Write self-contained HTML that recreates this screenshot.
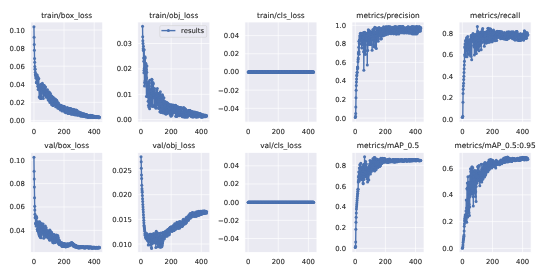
<!DOCTYPE html><html><head><meta charset="utf-8"><title>results</title><style>html,body{margin:0;padding:0;background:#fff}svg{display:block}text{font-family:"DejaVu Sans","Liberation Sans",sans-serif;fill:#262626;stroke:#262626;stroke-width:0.1}</style></head><body>
<svg width="550" height="273" viewBox="0 0 550 273">
<rect width="550" height="273" fill="#fff"/>
<defs><marker id="m" markerWidth="6" markerHeight="6" refX="3" refY="3" markerUnits="userSpaceOnUse"><circle cx="3" cy="3" r="1.5" fill="#4c72b0"/></marker></defs>
<g>
<rect x="30.66" y="22.00" width="72.08" height="100.1" fill="#eaeaf2"/>
<path d="M33.94 22.00V122.10M64.06 22.00V122.10M94.19 22.00V122.10M30.66 120.40H102.74M30.66 102.32H102.74M30.66 84.24H102.74M30.66 66.16H102.74M30.66 48.08H102.74M30.66 30.00H102.74" stroke="#fff" stroke-width="0.65" fill="none"/>
<polyline points="33.94,26.84 34.09,37.23 34.24,44.46 34.39,50.25 34.54,58.39 34.69,62.28 34.84,66.43 34.99,68.93 35.14,69.21 35.29,72.13 35.44,74.48 35.59,75.39 35.74,74.20 35.89,77.00 36.05,78.25 36.20,74.86 36.35,82.48 36.50,82.46 36.65,82.71 36.80,75.09 36.95,76.33 37.10,74.96 37.25,81.57 37.40,83.57 37.55,78.15 37.70,86.13 37.85,76.99 38.00,78.82 38.15,89.43 38.30,84.93 38.46,86.79 38.61,78.40 38.76,78.80 38.91,87.05 39.06,86.87 39.21,97.05 39.36,88.68 39.51,89.00 39.66,97.00 39.81,86.32 39.96,97.73 40.11,91.42 40.26,89.52 40.41,98.14 40.56,85.54 40.72,84.14 40.87,98.42 41.02,98.13 41.17,85.35 41.32,88.66 41.47,96.69 41.62,92.12 41.77,90.55 41.92,90.47 42.07,85.12 42.22,88.69 42.37,83.23 42.52,85.02 42.67,88.20 42.82,85.44 42.97,85.44 43.13,88.67 43.28,98.60 43.43,87.66 43.58,93.44 43.73,85.57 43.88,92.72 44.03,89.43 44.18,92.09 44.33,85.55 44.48,92.46 44.63,94.94 44.78,90.84 44.93,95.34 45.08,92.18 45.23,93.68 45.38,91.38 45.54,87.02 45.69,94.89 45.84,94.07 45.99,93.89 46.14,89.86 46.29,97.34 46.44,94.88 46.59,92.40 46.74,90.82 46.89,93.92 47.04,96.35 47.19,97.11 47.34,92.87 47.49,89.72 47.64,94.27 47.80,94.72 47.95,93.53 48.10,99.66 48.25,98.26 48.40,97.98 48.55,95.16 48.70,96.11 48.85,100.62 49.00,92.36 49.15,91.96 49.30,97.89 49.45,95.24 49.60,96.43 49.75,94.67 49.90,102.42 50.05,93.32 50.21,99.54 50.36,93.82 50.51,96.36 50.66,97.88 50.81,98.72 50.96,95.70 51.11,102.37 51.26,100.67 51.41,102.42 51.56,104.54 51.71,96.04 51.86,98.97 52.01,101.59 52.16,98.03 52.31,104.84 52.46,101.61 52.62,97.02 52.77,97.67 52.92,105.48 53.07,105.55 53.22,103.48 53.37,97.62 53.52,101.49 53.67,101.61 53.82,99.46 53.97,104.53 54.12,100.71 54.27,98.96 54.42,100.34 54.57,100.95 54.72,103.79 54.87,101.04 55.03,104.21 55.18,99.12 55.33,99.16 55.48,104.38 55.63,106.69 55.78,104.57 55.93,102.91 56.08,100.78 56.23,100.39 56.38,105.66 56.53,105.65 56.68,100.16 56.83,106.63 56.98,101.40 57.13,105.18 57.29,102.43 57.44,103.06 57.59,103.18 57.74,103.49 57.89,108.16 58.04,104.75 58.19,105.72 58.34,105.23 58.49,103.06 58.64,106.41 58.79,107.07 58.94,108.03 59.09,107.10 59.24,105.42 59.39,108.57 59.54,104.95 59.70,106.35 59.85,107.17 60.00,109.36 60.15,106.21 60.30,105.69 60.45,110.11 60.60,105.30 60.75,105.35 60.90,106.37 61.05,106.03 61.20,105.50 61.35,105.55 61.50,109.10 61.65,107.55 61.80,107.82 61.95,108.19 62.11,110.98 62.26,106.58 62.41,109.04 62.56,107.84 62.71,108.29 62.86,106.61 63.01,109.41 63.16,110.71 63.31,108.35 63.46,106.44 63.61,109.71 63.76,106.37 63.91,108.39 64.06,109.68 64.21,106.52 64.37,110.52 64.52,106.87 64.67,110.70 64.82,108.46 64.97,112.31 65.12,111.57 65.27,107.53 65.42,109.07 65.57,109.51 65.72,110.87 65.87,108.89 66.02,112.68 66.17,112.54 66.32,110.48 66.47,112.00 66.62,111.79 66.78,110.72 66.93,110.89 67.08,111.71 67.23,107.56 67.38,109.22 67.53,108.25 67.68,110.52 67.83,112.20 67.98,113.37 68.13,111.76 68.28,113.48 68.43,112.33 68.58,109.55 68.73,108.22 68.88,109.59 69.03,113.47 69.19,110.43 69.34,113.53 69.49,109.75 69.64,111.51 69.79,109.79 69.94,108.43 70.09,109.78 70.24,108.53 70.39,110.92 70.54,112.03 70.69,108.80 70.84,108.71 70.99,113.06 71.14,110.96 71.29,114.34 71.45,111.77 71.60,109.40 71.75,111.57 71.90,111.98 72.05,114.08 72.20,110.32 72.35,109.56 72.50,109.94 72.65,111.15 72.80,113.80 72.95,109.27 73.10,111.64 73.25,112.20 73.40,110.69 73.55,114.59 73.70,111.86 73.86,111.88 74.01,110.66 74.16,109.59 74.31,110.62 74.46,114.68 74.61,112.12 74.76,111.28 74.91,111.33 75.06,113.85 75.21,114.69 75.36,110.81 75.51,111.14 75.66,111.46 75.81,114.82 75.96,110.07 76.11,114.85 76.27,112.53 76.42,110.18 76.57,112.76 76.72,111.84 76.87,114.66 77.02,110.52 77.17,114.54 77.32,112.20 77.47,112.47 77.62,114.90 77.77,111.88 77.92,115.18 78.07,114.29 78.22,112.89 78.37,113.64 78.53,112.19 78.68,111.66 78.83,114.10 78.98,114.59 79.13,114.51 79.28,114.54 79.43,113.13 79.58,114.44 79.73,113.68 79.88,114.66 80.03,115.65 80.18,113.22 80.33,115.72 80.48,114.22 80.63,112.55 80.78,115.41 80.94,114.43 81.09,115.88 81.24,115.22 81.39,115.94 81.54,114.91 81.69,115.07 81.84,114.48 81.99,113.31 82.14,114.48 82.29,114.17 82.44,115.12 82.59,115.53 82.74,116.15 82.89,116.24 83.04,115.41 83.19,113.66 83.35,114.81 83.50,115.38 83.65,113.77 83.80,115.40 83.95,115.53 84.10,116.15 84.25,116.08 84.40,115.26 84.55,113.99 84.70,115.89 84.85,116.54 85.00,116.20 85.15,115.60 85.30,116.70 85.45,115.57 85.60,114.79 85.76,115.35 85.91,115.06 86.06,116.68 86.21,116.87 86.36,114.44 86.51,114.58 86.66,116.95 86.81,115.54 86.96,115.66 87.11,115.16 87.26,115.23 87.41,116.05 87.56,115.63 87.71,115.62 87.86,115.93 88.02,117.21 88.17,117.24 88.32,116.55 88.47,117.25 88.62,115.83 88.77,115.78 88.92,116.25 89.07,116.56 89.22,116.28 89.37,115.44 89.52,117.14 89.67,115.68 89.82,115.82 89.97,116.32 90.12,115.30 90.27,116.95 90.43,115.60 90.58,117.13 90.73,116.82 90.88,117.04 91.03,116.00 91.18,117.10 91.33,116.44 91.48,117.22 91.63,115.74 91.78,115.66 91.93,116.25 92.08,115.72 92.23,115.95 92.38,115.78 92.53,116.59 92.68,117.49 92.84,115.88 92.99,116.70 93.14,117.24 93.29,117.09 93.44,117.54 93.59,116.96 93.74,117.37 93.89,116.11 94.04,116.48 94.19,117.58 94.34,117.58 94.49,117.16 94.64,117.59 94.79,116.98 94.94,116.86 95.10,117.15 95.25,117.02 95.40,116.52 95.55,116.38 95.70,116.40 95.85,116.76 96.00,116.51 96.15,117.17 96.30,116.70 96.45,117.22 96.60,116.69 96.75,117.50 96.90,117.36 97.05,117.03 97.20,116.82 97.35,117.58 97.51,117.24 97.66,117.05 97.81,117.06 97.96,117.40 98.11,117.05 98.26,117.21 98.41,116.81 98.56,116.99 98.71,117.57 98.86,117.67 99.01,117.29 99.16,116.98 99.31,117.32 99.46,117.15" fill="none" stroke="#4c72b0" stroke-width="1.4" stroke-linejoin="round" stroke-linecap="round" marker-start="url(#m)" marker-mid="url(#m)" marker-end="url(#m)"/>
<rect x="30.66" y="22.00" width="72.08" height="100.1" fill="none" stroke="#fff" stroke-width="0.78"/>
<text x="33.94" y="133.80" font-size="6.875" text-anchor="middle">0</text>
<text x="64.06" y="133.80" font-size="6.875" text-anchor="middle">200</text>
<text x="94.19" y="133.80" font-size="6.875" text-anchor="middle">400</text>
<text x="24.86" y="122.90" font-size="6.875" text-anchor="end">0.00</text>
<text x="24.86" y="104.82" font-size="6.875" text-anchor="end">0.02</text>
<text x="24.86" y="86.74" font-size="6.875" text-anchor="end">0.04</text>
<text x="24.86" y="68.66" font-size="6.875" text-anchor="end">0.06</text>
<text x="24.86" y="50.58" font-size="6.875" text-anchor="end">0.08</text>
<text x="24.86" y="32.50" font-size="6.875" text-anchor="end">0.10</text>
<text x="66.70" y="17.50" font-size="7.4" text-anchor="middle">train/box_loss</text>
</g>
<g>
<rect x="137.76" y="22.00" width="72.08" height="100.1" fill="#eaeaf2"/>
<path d="M141.04 22.00V122.10M171.16 22.00V122.10M201.29 22.00V122.10M137.76 119.70H209.84M137.76 94.30H209.84M137.76 68.90H209.84M137.76 43.50H209.84" stroke="#fff" stroke-width="0.65" fill="none"/>
<polyline points="142.54,26.23 142.69,36.64 142.84,40.71 142.99,43.50 143.15,48.81 143.30,50.62 143.45,46.29 143.60,57.98 143.75,61.34 143.90,72.65 144.05,70.30 144.20,49.83 144.35,68.28 144.50,85.89 144.65,82.42 144.80,67.87 144.95,56.85 145.10,80.76 145.25,58.00 145.40,77.04 145.56,65.90 145.71,63.28 145.86,64.31 146.01,83.19 146.16,78.85 146.31,69.55 146.46,96.50 146.61,77.80 146.76,72.17 146.91,65.92 147.06,84.21 147.21,87.24 147.36,83.26 147.51,96.69 147.66,90.68 147.82,83.03 147.97,84.56 148.12,101.19 148.27,93.76 148.42,105.55 148.57,82.03 148.72,100.93 148.87,91.93 149.02,107.21 149.17,94.98 149.32,88.51 149.47,82.89 149.62,108.87 149.77,80.33 149.92,97.76 150.07,105.68 150.23,89.40 150.38,98.90 150.53,98.61 150.68,103.68 150.83,90.23 150.98,91.29 151.13,95.92 151.28,104.16 151.43,98.70 151.58,86.27 151.73,79.13 151.88,93.25 152.03,79.72 152.18,93.57 152.33,106.38 152.48,85.46 152.64,105.77 152.79,90.08 152.94,82.45 153.09,97.71 153.24,95.96 153.39,83.78 153.54,93.54 153.69,94.30 153.84,90.43 153.99,97.56 154.14,97.85 154.29,94.01 154.44,106.74 154.59,88.39 154.74,104.68 154.90,105.26 155.05,92.56 155.20,97.25 155.35,106.72 155.50,94.81 155.65,106.65 155.80,102.64 155.95,108.13 156.10,104.06 156.25,93.92 156.40,96.91 156.55,95.81 156.70,90.26 156.85,98.83 157.00,104.96 157.15,100.50 157.31,88.58 157.46,98.68 157.61,96.64 157.76,100.04 157.91,96.45 158.06,94.80 158.21,98.59 158.36,101.21 158.51,107.49 158.66,108.43 158.81,96.73 158.96,93.40 159.11,93.24 159.26,99.24 159.41,108.00 159.56,94.96 159.72,94.89 159.87,111.64 160.02,93.44 160.17,97.40 160.32,91.65 160.47,111.87 160.62,111.93 160.77,97.03 160.92,112.05 161.07,109.61 161.22,112.09 161.37,111.86 161.52,112.27 161.67,105.65 161.82,96.75 161.97,100.94 162.13,100.71 162.28,106.54 162.43,94.69 162.58,99.48 162.73,96.03 162.88,112.74 163.03,101.72 163.18,112.85 163.33,101.85 163.48,103.24 163.63,112.69 163.78,103.42 163.93,97.67 164.08,102.12 164.23,101.75 164.39,111.13 164.54,110.02 164.69,112.99 164.84,106.94 164.99,101.50 165.14,106.02 165.29,107.90 165.44,113.55 165.59,105.77 165.74,109.26 165.89,113.93 166.04,114.02 166.19,109.21 166.34,112.09 166.49,102.31 166.64,107.92 166.80,113.27 166.95,110.73 167.10,102.76 167.25,113.60 167.40,105.66 167.55,107.85 167.70,103.22 167.85,106.90 168.00,111.15 168.15,107.02 168.30,109.84 168.45,105.09 168.60,110.06 168.75,104.03 168.90,110.43 169.05,107.76 169.21,112.71 169.36,108.91 169.51,109.23 169.66,108.59 169.81,105.50 169.96,112.65 170.11,114.42 170.26,104.65 170.41,111.82 170.56,114.17 170.71,104.98 170.86,106.42 171.01,116.23 171.16,111.44 171.31,106.46 171.47,106.51 171.62,113.26 171.77,104.87 171.92,115.29 172.07,112.40 172.22,110.44 172.37,111.31 172.52,107.25 172.67,105.78 172.82,110.87 172.97,105.15 173.12,113.34 173.27,111.11 173.42,105.26 173.57,109.91 173.72,105.33 173.88,112.36 174.03,111.89 174.18,110.97 174.33,109.98 174.48,112.21 174.63,110.30 174.78,107.41 174.93,105.61 175.08,109.82 175.23,107.30 175.38,106.73 175.53,105.22 175.68,116.35 175.83,105.87 175.98,105.95 176.13,111.51 176.29,110.14 176.44,115.88 176.59,116.37 176.74,110.22 176.89,116.37 177.04,107.95 177.19,114.31 177.34,109.82 177.49,106.81 177.64,106.90 177.79,112.02 177.94,107.07 178.09,115.15 178.24,113.84 178.39,110.45 178.55,107.41 178.70,113.67 178.85,109.25 179.00,110.79 179.15,115.84 179.30,111.88 179.45,107.57 179.60,112.12 179.75,109.81 179.90,108.62 180.05,114.93 180.20,107.64 180.35,107.65 180.50,107.67 180.65,107.70 180.80,114.31 180.96,114.59 181.11,115.26 181.26,115.34 181.41,115.24 181.56,109.05 181.71,107.79 181.86,114.44 182.01,108.67 182.16,116.51 182.31,112.94 182.46,115.54 182.61,116.79 182.76,112.17 182.91,111.95 183.06,113.94 183.21,113.89 183.37,116.10 183.52,113.00 183.67,107.51 183.82,111.50 183.97,116.92 184.12,112.17 184.27,111.25 184.42,108.35 184.57,108.88 184.72,111.90 184.87,115.16 185.02,116.95 185.17,112.74 185.32,109.03 185.47,109.15 185.63,116.97 185.78,115.36 185.93,114.15 186.08,116.27 186.23,112.15 186.38,112.91 186.53,114.92 186.68,113.29 186.83,116.99 186.98,116.14 187.13,115.91 187.28,110.73 187.43,116.99 187.58,114.05 187.73,111.06 187.88,113.76 188.04,111.44 188.19,115.58 188.34,112.58 188.49,111.12 188.64,110.40 188.79,111.78 188.94,110.49 189.09,113.83 189.24,113.86 189.39,110.62 189.54,112.76 189.69,110.70 189.84,112.33 189.99,110.79 190.14,110.83 190.29,115.78 190.45,110.92 190.60,112.49 190.75,112.20 190.90,113.64 191.05,111.76 191.20,116.40 191.35,115.34 191.50,115.50 191.65,112.86 191.80,111.39 191.95,111.85 192.10,112.91 192.25,115.23 192.40,117.04 192.55,112.98 192.70,113.91 192.86,113.39 193.01,111.65 193.16,114.42 193.31,114.54 193.46,117.00 193.61,113.03 193.76,114.51 193.91,116.04 194.06,113.66 194.21,116.54 194.36,115.62 194.51,112.09 194.66,113.07 194.81,112.83 194.96,113.18 195.12,113.24 195.27,114.23 195.42,112.35 195.57,114.93 195.72,113.38 195.87,115.31 196.02,115.65 196.17,116.94 196.32,116.94 196.47,112.65 196.62,112.69 196.77,115.51 196.92,114.83 197.07,113.77 197.22,116.50 197.37,112.91 197.53,116.35 197.68,115.76 197.83,116.96 197.98,113.08 198.13,114.83 198.28,113.17 198.43,116.55 198.58,114.53 198.73,114.80 198.88,114.68 199.03,113.38 199.18,113.42 199.33,113.47 199.48,115.93 199.63,113.99 199.78,113.59 199.94,114.52 200.09,114.49 200.24,114.70 200.39,116.62 200.54,115.19 200.69,113.85 200.84,116.83 200.99,115.50 201.14,114.59 201.29,116.99 201.44,115.61 201.59,116.98 201.74,116.30 201.89,116.97 202.04,116.71 202.20,116.19 202.35,115.94 202.50,115.86 202.65,116.95 202.80,114.44 202.95,115.78 203.10,116.57 203.25,116.27 203.40,115.32 203.55,116.70 203.70,116.24 203.85,116.25 204.00,115.39 204.15,116.56 204.30,115.46 204.45,115.61 204.61,116.09 204.76,114.98 204.91,115.88 205.06,116.79 205.21,115.78 205.36,115.96 205.51,116.09 205.66,115.82 205.81,115.27 205.96,115.82 206.11,115.68 206.26,116.17 206.41,115.44 206.56,116.09" fill="none" stroke="#4c72b0" stroke-width="1.4" stroke-linejoin="round" stroke-linecap="round" marker-start="url(#m)" marker-mid="url(#m)" marker-end="url(#m)"/>
<rect x="159.8" y="25.6" width="46.9" height="11.7" rx="1.4" fill="#eaeaf2" fill-opacity="0.8" stroke="#ccc" stroke-opacity="0.8" stroke-width="0.6"/>
<path d="M161.4 30.6H175.4" stroke="#4c72b0" stroke-width="1.4"/><circle cx="168.4" cy="30.6" r="1.5" fill="#4c72b0"/>
<text x="181.0" y="33.0" font-size="6.875">results</text>
<rect x="137.76" y="22.00" width="72.08" height="100.1" fill="none" stroke="#fff" stroke-width="0.78"/>
<text x="141.04" y="133.80" font-size="6.875" text-anchor="middle">0</text>
<text x="171.16" y="133.80" font-size="6.875" text-anchor="middle">200</text>
<text x="201.29" y="133.80" font-size="6.875" text-anchor="middle">400</text>
<text x="131.96" y="122.20" font-size="6.875" text-anchor="end">0.00</text>
<text x="131.96" y="96.80" font-size="6.875" text-anchor="end">0.01</text>
<text x="131.96" y="71.40" font-size="6.875" text-anchor="end">0.02</text>
<text x="131.96" y="46.00" font-size="6.875" text-anchor="end">0.03</text>
<text x="173.80" y="17.50" font-size="7.4" text-anchor="middle">train/obj_loss</text>
</g>
<g>
<rect x="244.86" y="22.00" width="72.08" height="100.1" fill="#eaeaf2"/>
<path d="M248.14 22.00V122.10M278.26 22.00V122.10M308.39 22.00V122.10M244.86 108.30H316.94M244.86 90.12H316.94M244.86 71.95H316.94M244.86 53.77H316.94M244.86 35.60H316.94" stroke="#fff" stroke-width="0.65" fill="none"/>
<polyline points="248.14,71.95 248.29,71.95 248.44,71.95 248.59,71.95 248.74,71.95 248.89,71.95 249.04,71.95 249.19,71.95 249.34,71.95 249.49,71.95 249.64,71.95 249.79,71.95 249.94,71.95 250.09,71.95 250.25,71.95 250.40,71.95 250.55,71.95 250.70,71.95 250.85,71.95 251.00,71.95 251.15,71.95 251.30,71.95 251.45,71.95 251.60,71.95 251.75,71.95 251.90,71.95 252.05,71.95 252.20,71.95 252.35,71.95 252.50,71.95 252.66,71.95 252.81,71.95 252.96,71.95 253.11,71.95 253.26,71.95 253.41,71.95 253.56,71.95 253.71,71.95 253.86,71.95 254.01,71.95 254.16,71.95 254.31,71.95 254.46,71.95 254.61,71.95 254.76,71.95 254.92,71.95 255.07,71.95 255.22,71.95 255.37,71.95 255.52,71.95 255.67,71.95 255.82,71.95 255.97,71.95 256.12,71.95 256.27,71.95 256.42,71.95 256.57,71.95 256.72,71.95 256.87,71.95 257.02,71.95 257.17,71.95 257.33,71.95 257.48,71.95 257.63,71.95 257.78,71.95 257.93,71.95 258.08,71.95 258.23,71.95 258.38,71.95 258.53,71.95 258.68,71.95 258.83,71.95 258.98,71.95 259.13,71.95 259.28,71.95 259.43,71.95 259.58,71.95 259.74,71.95 259.89,71.95 260.04,71.95 260.19,71.95 260.34,71.95 260.49,71.95 260.64,71.95 260.79,71.95 260.94,71.95 261.09,71.95 261.24,71.95 261.39,71.95 261.54,71.95 261.69,71.95 261.84,71.95 262.00,71.95 262.15,71.95 262.30,71.95 262.45,71.95 262.60,71.95 262.75,71.95 262.90,71.95 263.05,71.95 263.20,71.95 263.35,71.95 263.50,71.95 263.65,71.95 263.80,71.95 263.95,71.95 264.10,71.95 264.25,71.95 264.41,71.95 264.56,71.95 264.71,71.95 264.86,71.95 265.01,71.95 265.16,71.95 265.31,71.95 265.46,71.95 265.61,71.95 265.76,71.95 265.91,71.95 266.06,71.95 266.21,71.95 266.36,71.95 266.51,71.95 266.66,71.95 266.82,71.95 266.97,71.95 267.12,71.95 267.27,71.95 267.42,71.95 267.57,71.95 267.72,71.95 267.87,71.95 268.02,71.95 268.17,71.95 268.32,71.95 268.47,71.95 268.62,71.95 268.77,71.95 268.92,71.95 269.07,71.95 269.23,71.95 269.38,71.95 269.53,71.95 269.68,71.95 269.83,71.95 269.98,71.95 270.13,71.95 270.28,71.95 270.43,71.95 270.58,71.95 270.73,71.95 270.88,71.95 271.03,71.95 271.18,71.95 271.33,71.95 271.49,71.95 271.64,71.95 271.79,71.95 271.94,71.95 272.09,71.95 272.24,71.95 272.39,71.95 272.54,71.95 272.69,71.95 272.84,71.95 272.99,71.95 273.14,71.95 273.29,71.95 273.44,71.95 273.59,71.95 273.74,71.95 273.90,71.95 274.05,71.95 274.20,71.95 274.35,71.95 274.50,71.95 274.65,71.95 274.80,71.95 274.95,71.95 275.10,71.95 275.25,71.95 275.40,71.95 275.55,71.95 275.70,71.95 275.85,71.95 276.00,71.95 276.15,71.95 276.31,71.95 276.46,71.95 276.61,71.95 276.76,71.95 276.91,71.95 277.06,71.95 277.21,71.95 277.36,71.95 277.51,71.95 277.66,71.95 277.81,71.95 277.96,71.95 278.11,71.95 278.26,71.95 278.41,71.95 278.57,71.95 278.72,71.95 278.87,71.95 279.02,71.95 279.17,71.95 279.32,71.95 279.47,71.95 279.62,71.95 279.77,71.95 279.92,71.95 280.07,71.95 280.22,71.95 280.37,71.95 280.52,71.95 280.67,71.95 280.82,71.95 280.98,71.95 281.13,71.95 281.28,71.95 281.43,71.95 281.58,71.95 281.73,71.95 281.88,71.95 282.03,71.95 282.18,71.95 282.33,71.95 282.48,71.95 282.63,71.95 282.78,71.95 282.93,71.95 283.08,71.95 283.23,71.95 283.39,71.95 283.54,71.95 283.69,71.95 283.84,71.95 283.99,71.95 284.14,71.95 284.29,71.95 284.44,71.95 284.59,71.95 284.74,71.95 284.89,71.95 285.04,71.95 285.19,71.95 285.34,71.95 285.49,71.95 285.65,71.95 285.80,71.95 285.95,71.95 286.10,71.95 286.25,71.95 286.40,71.95 286.55,71.95 286.70,71.95 286.85,71.95 287.00,71.95 287.15,71.95 287.30,71.95 287.45,71.95 287.60,71.95 287.75,71.95 287.90,71.95 288.06,71.95 288.21,71.95 288.36,71.95 288.51,71.95 288.66,71.95 288.81,71.95 288.96,71.95 289.11,71.95 289.26,71.95 289.41,71.95 289.56,71.95 289.71,71.95 289.86,71.95 290.01,71.95 290.16,71.95 290.31,71.95 290.47,71.95 290.62,71.95 290.77,71.95 290.92,71.95 291.07,71.95 291.22,71.95 291.37,71.95 291.52,71.95 291.67,71.95 291.82,71.95 291.97,71.95 292.12,71.95 292.27,71.95 292.42,71.95 292.57,71.95 292.73,71.95 292.88,71.95 293.03,71.95 293.18,71.95 293.33,71.95 293.48,71.95 293.63,71.95 293.78,71.95 293.93,71.95 294.08,71.95 294.23,71.95 294.38,71.95 294.53,71.95 294.68,71.95 294.83,71.95 294.98,71.95 295.14,71.95 295.29,71.95 295.44,71.95 295.59,71.95 295.74,71.95 295.89,71.95 296.04,71.95 296.19,71.95 296.34,71.95 296.49,71.95 296.64,71.95 296.79,71.95 296.94,71.95 297.09,71.95 297.24,71.95 297.39,71.95 297.55,71.95 297.70,71.95 297.85,71.95 298.00,71.95 298.15,71.95 298.30,71.95 298.45,71.95 298.60,71.95 298.75,71.95 298.90,71.95 299.05,71.95 299.20,71.95 299.35,71.95 299.50,71.95 299.65,71.95 299.80,71.95 299.96,71.95 300.11,71.95 300.26,71.95 300.41,71.95 300.56,71.95 300.71,71.95 300.86,71.95 301.01,71.95 301.16,71.95 301.31,71.95 301.46,71.95 301.61,71.95 301.76,71.95 301.91,71.95 302.06,71.95 302.22,71.95 302.37,71.95 302.52,71.95 302.67,71.95 302.82,71.95 302.97,71.95 303.12,71.95 303.27,71.95 303.42,71.95 303.57,71.95 303.72,71.95 303.87,71.95 304.02,71.95 304.17,71.95 304.32,71.95 304.47,71.95 304.63,71.95 304.78,71.95 304.93,71.95 305.08,71.95 305.23,71.95 305.38,71.95 305.53,71.95 305.68,71.95 305.83,71.95 305.98,71.95 306.13,71.95 306.28,71.95 306.43,71.95 306.58,71.95 306.73,71.95 306.88,71.95 307.04,71.95 307.19,71.95 307.34,71.95 307.49,71.95 307.64,71.95 307.79,71.95 307.94,71.95 308.09,71.95 308.24,71.95 308.39,71.95 308.54,71.95 308.69,71.95 308.84,71.95 308.99,71.95 309.14,71.95 309.30,71.95 309.45,71.95 309.60,71.95 309.75,71.95 309.90,71.95 310.05,71.95 310.20,71.95 310.35,71.95 310.50,71.95 310.65,71.95 310.80,71.95 310.95,71.95 311.10,71.95 311.25,71.95 311.40,71.95 311.55,71.95 311.71,71.95 311.86,71.95 312.01,71.95 312.16,71.95 312.31,71.95 312.46,71.95 312.61,71.95 312.76,71.95 312.91,71.95 313.06,71.95 313.21,71.95 313.36,71.95 313.51,71.95 313.66,71.95" fill="none" stroke="#4c72b0" stroke-width="1.4" stroke-linejoin="round" stroke-linecap="round" marker-start="url(#m)" marker-mid="url(#m)" marker-end="url(#m)"/>
<rect x="244.86" y="22.00" width="72.08" height="100.1" fill="none" stroke="#fff" stroke-width="0.78"/>
<text x="248.14" y="133.80" font-size="6.875" text-anchor="middle">0</text>
<text x="278.26" y="133.80" font-size="6.875" text-anchor="middle">200</text>
<text x="308.39" y="133.80" font-size="6.875" text-anchor="middle">400</text>
<text x="239.06" y="110.80" font-size="6.875" text-anchor="end">−0.04</text>
<text x="239.06" y="92.62" font-size="6.875" text-anchor="end">−0.02</text>
<text x="239.06" y="74.45" font-size="6.875" text-anchor="end">0.00</text>
<text x="239.06" y="56.27" font-size="6.875" text-anchor="end">0.02</text>
<text x="239.06" y="38.10" font-size="6.875" text-anchor="end">0.04</text>
<text x="280.90" y="17.50" font-size="7.4" text-anchor="middle">train/cls_loss</text>
</g>
<g>
<rect x="351.96" y="22.00" width="72.08" height="100.1" fill="#eaeaf2"/>
<path d="M355.24 22.00V122.10M385.36 22.00V122.10M415.49 22.00V122.10M351.96 118.10H424.04M351.96 99.54H424.04M351.96 80.98H424.04M351.96 62.42H424.04M351.96 43.86H424.04M351.96 25.30H424.04" stroke="#fff" stroke-width="0.65" fill="none"/>
<polyline points="355.24,117.45 355.39,116.99 355.54,116.24 355.69,113.46 355.84,106.96 355.99,97.68 356.14,90.26 356.29,85.62 356.44,81.91 356.59,79.12 356.74,75.68 356.89,75.03 357.04,72.57 357.19,72.17 357.35,69.02 357.50,67.34 357.65,67.04 357.80,68.12 357.95,61.87 358.10,59.59 358.25,57.98 358.40,53.86 358.55,52.27 358.70,47.13 358.85,41.33 359.00,51.66 359.15,54.25 359.30,43.62 359.45,39.93 359.60,39.60 359.76,35.83 359.91,41.06 360.06,37.30 360.21,38.71 360.36,33.18 360.51,37.41 360.66,39.19 360.81,35.29 360.96,35.03 361.11,40.84 361.26,43.97 361.41,34.08 361.56,38.65 361.71,48.05 361.86,33.54 362.02,39.07 362.17,33.31 362.32,34.01 362.47,39.41 362.62,33.63 362.77,44.79 362.92,37.15 363.07,39.22 363.22,37.18 363.37,37.94 363.52,51.69 363.67,32.42 363.82,70.22 363.97,36.99 364.12,37.69 364.27,51.87 364.43,43.12 364.58,34.86 364.73,32.23 364.88,33.27 365.03,41.78 365.18,54.33 365.33,54.36 365.48,50.73 365.63,39.00 365.78,37.39 365.93,38.27 366.08,40.40 366.23,33.55 366.38,37.14 366.53,39.54 366.68,39.00 366.84,35.59 366.99,34.53 367.14,35.54 367.29,65.11 367.44,33.20 367.59,44.87 367.74,50.51 367.89,32.62 368.04,33.52 368.19,33.31 368.34,29.77 368.49,33.38 368.64,39.69 368.79,38.60 368.94,36.68 369.10,34.74 369.25,44.53 369.40,30.71 369.55,31.31 369.70,39.36 369.85,34.09 370.00,37.94 370.15,44.44 370.30,35.46 370.45,41.50 370.60,32.55 370.75,34.42 370.90,37.36 371.05,32.74 371.20,34.01 371.35,44.55 371.51,36.99 371.66,32.34 371.81,38.54 371.96,39.69 372.11,50.20 372.26,33.51 372.41,39.05 372.56,33.85 372.71,29.63 372.86,31.12 373.01,32.43 373.16,34.46 373.31,38.32 373.46,31.46 373.61,31.40 373.76,46.65 373.92,28.74 374.07,29.08 374.22,31.29 374.37,33.68 374.52,31.85 374.67,33.17 374.82,27.24 374.97,38.43 375.12,35.47 375.27,45.62 375.42,46.72 375.57,34.21 375.72,47.66 375.87,38.14 376.02,34.69 376.17,35.62 376.33,48.41 376.48,32.48 376.63,33.06 376.78,27.99 376.93,29.52 377.08,28.98 377.23,38.01 377.38,34.97 377.53,31.98 377.68,31.53 377.83,32.06 377.98,32.91 378.13,41.15 378.28,31.75 378.43,39.10 378.59,29.22 378.74,33.18 378.89,34.23 379.04,27.45 379.19,28.16 379.34,33.96 379.49,36.17 379.64,29.44 379.79,35.09 379.94,34.63 380.09,32.68 380.24,33.21 380.39,31.24 380.54,34.70 380.69,33.41 380.84,39.00 381.00,34.39 381.15,28.36 381.30,30.56 381.45,38.68 381.60,34.44 381.75,29.30 381.90,29.51 382.05,30.40 382.20,30.99 382.35,32.90 382.50,35.90 382.65,30.34 382.80,29.72 382.95,28.39 383.10,29.04 383.25,31.20 383.41,35.56 383.56,26.87 383.71,33.34 383.86,28.60 384.01,33.69 384.16,34.93 384.31,34.90 384.46,32.65 384.61,31.14 384.76,27.29 384.91,32.65 385.06,33.14 385.21,34.76 385.36,31.46 385.51,29.76 385.67,34.68 385.82,26.98 385.97,27.18 386.12,26.69 386.27,31.67 386.42,29.18 386.57,29.31 386.72,32.31 386.87,32.46 387.02,32.58 387.17,29.12 387.32,28.45 387.47,26.69 387.62,31.43 387.77,34.34 387.92,29.71 388.08,29.29 388.23,27.42 388.38,26.89 388.53,32.20 388.68,26.69 388.83,30.62 388.98,27.97 389.13,26.69 389.28,30.82 389.43,28.85 389.58,33.21 389.73,32.28 389.88,29.35 390.03,33.41 390.18,33.11 390.33,26.69 390.49,29.43 390.64,32.54 390.79,33.07 390.94,27.60 391.09,33.81 391.24,31.91 391.39,28.50 391.54,31.32 391.69,28.42 391.84,32.75 391.99,30.24 392.14,30.67 392.29,29.59 392.44,29.72 392.59,29.78 392.75,27.16 392.90,31.47 393.05,31.04 393.20,30.65 393.35,31.25 393.50,33.61 393.65,33.63 393.80,33.66 393.95,30.59 394.10,32.49 394.25,31.74 394.40,26.69 394.55,27.75 394.70,31.03 394.85,32.80 395.00,27.24 395.16,32.52 395.31,26.69 395.46,28.57 395.61,26.69 395.76,31.81 395.91,27.25 396.06,34.02 396.21,30.61 396.36,27.03 396.51,28.95 396.66,34.12 396.81,29.98 396.96,30.65 397.11,31.76 397.26,32.96 397.41,31.84 397.57,31.79 397.72,27.73 397.87,29.05 398.02,26.90 398.17,27.73 398.32,33.49 398.47,29.59 398.62,26.69 398.77,34.02 398.92,30.04 399.07,32.34 399.22,32.95 399.37,29.42 399.52,26.69 399.67,26.69 399.83,27.08 399.98,26.69 400.13,32.41 400.28,26.69 400.43,26.97 400.58,28.63 400.73,28.10 400.88,30.57 401.03,26.69 401.18,30.92 401.33,32.66 401.48,28.47 401.63,30.01 401.78,28.61 401.93,26.69 402.08,29.24 402.24,28.98 402.39,26.69 402.54,32.65 402.69,29.10 402.84,26.69 402.99,26.69 403.14,26.69 403.29,30.60 403.44,28.50 403.59,30.13 403.74,31.29 403.89,31.75 404.04,32.95 404.19,29.41 404.34,28.44 404.49,32.48 404.65,28.86 404.80,30.98 404.95,31.87 405.10,32.69 405.25,27.71 405.40,28.62 405.55,30.64 405.70,30.94 405.85,32.19 406.00,29.65 406.15,31.80 406.30,30.24 406.45,31.66 406.60,32.73 406.75,32.76 406.90,30.03 407.06,32.83 407.21,29.07 407.36,27.18 407.51,31.59 407.66,27.08 407.81,28.18 407.96,27.08 408.11,30.40 408.26,29.84 408.41,29.48 408.56,26.69 408.71,29.64 408.86,29.80 409.01,33.24 409.16,29.73 409.32,31.93 409.47,30.82 409.62,29.85 409.77,29.33 409.92,29.74 410.07,30.22 410.22,31.76 410.37,27.42 410.52,32.93 410.67,30.37 410.82,27.75 410.97,31.12 411.12,28.05 411.27,27.87 411.42,26.69 411.57,27.22 411.73,33.66 411.88,29.28 412.03,28.06 412.18,27.28 412.33,28.48 412.48,26.69 412.63,26.69 412.78,31.01 412.93,29.76 413.08,34.10 413.23,26.69 413.38,29.99 413.53,29.94 413.68,33.57 413.83,31.00 413.98,28.95 414.14,31.96 414.29,31.79 414.44,32.85 414.59,26.69 414.74,31.06 414.89,33.90 415.04,32.33 415.19,30.45 415.34,29.09 415.49,29.52 415.64,32.10 415.79,29.75 415.94,28.69 416.09,32.47 416.24,26.69 416.40,26.69 416.55,34.01 416.70,33.09 416.85,28.64 417.00,27.07 417.15,26.69 417.30,33.20 417.45,32.11 417.60,30.47 417.75,27.30 417.90,31.34 418.05,28.06 418.20,27.72 418.35,26.98 418.50,31.58 418.65,28.15 418.81,28.90 418.96,30.61 419.11,26.83 419.26,30.98 419.41,27.11 419.56,31.31 419.71,27.12 419.86,27.19 420.01,30.39 420.16,28.08 420.31,28.87 420.46,30.98 420.61,27.58 420.76,28.61" fill="none" stroke="#4c72b0" stroke-width="1.4" stroke-linejoin="round" stroke-linecap="round" marker-start="url(#m)" marker-mid="url(#m)" marker-end="url(#m)"/>
<rect x="351.96" y="22.00" width="72.08" height="100.1" fill="none" stroke="#fff" stroke-width="0.78"/>
<text x="355.24" y="133.80" font-size="6.875" text-anchor="middle">0</text>
<text x="385.36" y="133.80" font-size="6.875" text-anchor="middle">200</text>
<text x="415.49" y="133.80" font-size="6.875" text-anchor="middle">400</text>
<text x="346.16" y="120.60" font-size="6.875" text-anchor="end">0.0</text>
<text x="346.16" y="102.04" font-size="6.875" text-anchor="end">0.2</text>
<text x="346.16" y="83.48" font-size="6.875" text-anchor="end">0.4</text>
<text x="346.16" y="64.92" font-size="6.875" text-anchor="end">0.6</text>
<text x="346.16" y="46.36" font-size="6.875" text-anchor="end">0.8</text>
<text x="346.16" y="27.80" font-size="6.875" text-anchor="end">1.0</text>
<text x="388.00" y="17.50" font-size="7.4" text-anchor="middle">metrics/precision</text>
</g>
<g>
<rect x="459.06" y="22.00" width="72.08" height="100.1" fill="#eaeaf2"/>
<path d="M462.34 22.00V122.10M492.46 22.00V122.10M522.59 22.00V122.10M459.06 119.40H531.14M459.06 97.88H531.14M459.06 76.35H531.14M459.06 54.83H531.14M459.06 33.30H531.14" stroke="#fff" stroke-width="0.65" fill="none"/>
<polyline points="462.34,117.36 462.49,117.25 462.64,117.03 462.79,116.17 462.94,102.18 463.09,93.57 463.24,89.27 463.39,86.04 463.54,83.35 463.69,79.58 463.84,76.35 463.99,72.58 464.14,68.82 464.29,65.05 464.45,61.28 464.60,54.83 464.75,46.76 464.90,47.84 465.05,44.06 465.20,56.46 465.35,56.49 465.50,40.82 465.65,43.41 465.80,40.98 465.95,43.98 466.10,46.56 466.25,39.60 466.40,51.05 466.55,37.84 466.70,43.00 466.86,39.12 467.01,56.72 467.16,44.11 467.31,49.15 467.46,40.23 467.61,54.03 467.76,36.40 467.91,46.27 468.06,39.94 468.21,42.75 468.36,39.93 468.51,44.20 468.66,43.35 468.81,44.41 468.96,45.71 469.12,54.38 469.27,43.98 469.42,42.60 469.57,39.79 469.72,42.58 469.87,43.16 470.02,44.77 470.17,53.29 470.32,48.82 470.47,48.63 470.62,43.25 470.77,56.31 470.92,38.87 471.07,36.73 471.22,35.35 471.37,40.54 471.53,38.01 471.68,59.67 471.83,38.34 471.98,35.91 472.13,38.64 472.28,35.83 472.43,39.47 472.58,40.28 472.73,41.58 472.88,35.73 473.03,33.50 473.18,34.34 473.33,36.50 473.48,37.60 473.63,45.44 473.78,39.22 473.94,39.19 474.09,46.98 474.24,40.23 474.39,55.03 474.54,37.41 474.69,37.21 474.84,34.67 474.99,34.83 475.14,40.38 475.29,46.25 475.44,38.46 475.59,53.53 475.74,38.70 475.89,35.77 476.04,45.12 476.20,43.18 476.35,53.55 476.50,39.45 476.65,42.35 476.80,33.66 476.95,35.68 477.10,33.78 477.25,37.57 477.40,26.52 477.55,49.40 477.70,31.35 477.85,43.82 478.00,38.37 478.15,34.77 478.30,47.56 478.45,32.56 478.61,40.91 478.76,40.19 478.91,50.84 479.06,34.43 479.21,34.95 479.36,36.27 479.51,45.86 479.66,34.83 479.81,45.43 479.96,42.64 480.11,33.38 480.26,39.24 480.41,36.67 480.56,32.06 480.71,35.88 480.86,33.12 481.02,43.21 481.17,49.72 481.32,38.54 481.47,33.65 481.62,34.81 481.77,32.04 481.92,32.51 482.07,42.27 482.22,36.44 482.37,29.87 482.52,34.45 482.67,28.46 482.82,33.41 482.97,32.02 483.12,35.48 483.27,34.64 483.43,32.85 483.58,39.39 483.73,34.79 483.88,35.34 484.03,41.91 484.18,35.80 484.33,46.21 484.48,33.72 484.63,33.88 484.78,32.65 484.93,32.17 485.08,32.46 485.23,36.09 485.38,39.81 485.53,35.16 485.69,32.58 485.84,40.59 485.99,38.67 486.14,43.15 486.29,32.58 486.44,42.61 486.59,32.76 486.74,31.44 486.89,42.54 487.04,42.51 487.19,32.65 487.34,31.79 487.49,37.78 487.64,38.04 487.79,28.46 487.94,31.46 488.10,35.32 488.25,28.14 488.40,42.30 488.55,32.04 488.70,36.21 488.85,34.30 489.00,29.38 489.15,33.31 489.30,35.24 489.45,42.14 489.60,30.12 489.75,28.73 489.90,35.96 490.05,37.33 490.20,33.91 490.35,30.36 490.51,33.12 490.66,29.09 490.81,36.22 490.96,40.51 491.11,32.57 491.26,30.24 491.41,37.72 491.56,36.66 491.71,39.40 491.86,41.75 492.01,38.64 492.16,41.70 492.31,35.87 492.46,33.59 492.61,31.54 492.77,37.27 492.92,36.91 493.07,40.37 493.22,39.91 493.37,32.33 493.52,30.12 493.67,39.27 493.82,36.79 493.97,31.38 494.12,38.88 494.27,33.96 494.42,37.70 494.57,37.73 494.72,33.00 494.87,36.87 495.02,40.81 495.18,32.94 495.33,35.65 495.48,36.79 495.63,36.74 495.78,32.81 495.93,38.04 496.08,35.24 496.23,31.82 496.38,35.18 496.53,32.48 496.68,40.51 496.83,35.55 496.98,36.08 497.13,31.20 497.28,36.37 497.43,33.00 497.59,36.07 497.74,37.42 497.89,37.06 498.04,36.34 498.19,32.69 498.34,36.75 498.49,33.93 498.64,31.41 498.79,31.43 498.94,31.59 499.09,31.48 499.24,36.07 499.39,34.65 499.54,33.07 499.69,31.57 499.85,33.50 500.00,36.56 500.15,34.42 500.30,37.83 500.45,32.28 500.60,38.86 500.75,34.94 500.90,31.75 501.05,32.45 501.20,38.18 501.35,34.43 501.50,35.63 501.65,35.80 501.80,31.77 501.95,33.63 502.10,38.10 502.26,37.07 502.41,33.14 502.56,33.93 502.71,37.54 502.86,38.61 503.01,36.67 503.16,37.38 503.31,35.00 503.46,38.48 503.61,35.81 503.76,34.34 503.91,38.97 504.06,37.98 504.21,32.55 504.36,36.93 504.51,36.23 504.67,34.33 504.82,37.86 504.97,36.67 505.12,39.06 505.27,34.58 505.42,36.94 505.57,37.35 505.72,39.11 505.87,33.67 506.02,33.26 506.17,37.59 506.32,33.32 506.47,39.17 506.62,36.44 506.77,39.19 506.93,31.90 507.08,39.21 507.23,39.06 507.38,37.63 507.53,34.83 507.68,34.24 507.83,36.46 507.98,36.68 508.13,31.94 508.28,37.61 508.43,34.54 508.58,31.93 508.73,38.22 508.88,36.87 509.03,32.24 509.18,33.96 509.34,38.01 509.49,35.05 509.64,31.89 509.79,36.70 509.94,35.09 510.09,35.57 510.24,37.10 510.39,32.32 510.54,33.57 510.69,32.84 510.84,37.47 510.99,37.07 511.14,36.52 511.29,34.69 511.44,36.02 511.59,35.80 511.75,31.81 511.90,37.02 512.05,36.37 512.20,35.95 512.35,36.02 512.50,38.77 512.65,37.53 512.80,32.65 512.95,34.68 513.10,35.20 513.25,31.75 513.40,38.04 513.55,32.47 513.70,33.62 513.85,38.82 514.00,37.10 514.16,38.02 514.31,33.27 514.46,33.81 514.61,37.25 514.76,39.84 514.91,39.86 515.06,36.19 515.21,39.88 515.36,36.95 515.51,36.77 515.66,34.90 515.81,32.41 515.96,34.42 516.11,33.48 516.26,34.49 516.42,31.58 516.57,31.65 516.72,31.55 516.87,31.53 517.02,37.26 517.17,39.93 517.32,34.82 517.47,33.43 517.62,39.51 517.77,33.63 517.92,37.53 518.07,37.45 518.22,36.13 518.37,40.22 518.52,40.14 518.67,35.95 518.83,39.34 518.98,37.22 519.13,37.58 519.28,40.33 519.43,40.34 519.58,37.97 519.73,40.38 519.88,40.39 520.03,40.41 520.18,40.43 520.33,33.75 520.48,34.00 520.63,39.31 520.78,40.37 520.93,34.17 521.08,34.29 521.24,38.13 521.39,34.63 521.54,37.01 521.69,37.28 521.84,34.76 521.99,37.25 522.14,34.33 522.29,36.80 522.44,37.00 522.59,38.40 522.74,35.70 522.89,34.08 523.04,35.64 523.19,39.19 523.34,35.15 523.50,40.05 523.65,40.01 523.80,37.52 523.95,34.84 524.10,34.04 524.25,33.86 524.40,30.85 524.55,31.96 524.70,36.42 524.85,31.55 525.00,35.50 525.15,33.39 525.30,32.46 525.45,34.38 525.60,38.62 525.75,35.40 525.91,36.17 526.06,35.49 526.21,35.45 526.36,37.63 526.51,38.18 526.66,33.08 526.81,33.06 526.96,34.24 527.11,35.04 527.26,32.81 527.41,34.52 527.56,35.08 527.71,34.54 527.86,34.98" fill="none" stroke="#4c72b0" stroke-width="1.4" stroke-linejoin="round" stroke-linecap="round" marker-start="url(#m)" marker-mid="url(#m)" marker-end="url(#m)"/>
<rect x="459.06" y="22.00" width="72.08" height="100.1" fill="none" stroke="#fff" stroke-width="0.78"/>
<text x="462.34" y="133.80" font-size="6.875" text-anchor="middle">0</text>
<text x="492.46" y="133.80" font-size="6.875" text-anchor="middle">200</text>
<text x="522.59" y="133.80" font-size="6.875" text-anchor="middle">400</text>
<text x="453.26" y="121.90" font-size="6.875" text-anchor="end">0.0</text>
<text x="453.26" y="100.38" font-size="6.875" text-anchor="end">0.2</text>
<text x="453.26" y="78.85" font-size="6.875" text-anchor="end">0.4</text>
<text x="453.26" y="57.33" font-size="6.875" text-anchor="end">0.6</text>
<text x="453.26" y="35.80" font-size="6.875" text-anchor="end">0.8</text>
<text x="495.10" y="17.50" font-size="7.4" text-anchor="middle">metrics/recall</text>
</g>
<g>
<rect x="30.66" y="152.40" width="72.08" height="100.1" fill="#eaeaf2"/>
<path d="M33.94 152.40V252.50M64.06 152.40V252.50M94.19 152.40V252.50M30.66 230.30H102.74M30.66 206.97H102.74M30.66 183.63H102.74M30.66 160.30H102.74" stroke="#fff" stroke-width="0.65" fill="none"/>
<polyline points="33.94,157.15 34.09,171.15 34.24,178.97 34.39,186.90 34.54,197.63 34.69,206.27 34.84,209.88 34.99,214.20 35.14,217.82 35.29,217.82 35.44,216.70 35.59,223.80 35.74,222.90 35.89,223.59 36.05,226.12 36.20,216.66 36.35,216.46 36.50,225.83 36.65,224.35 36.80,217.81 36.95,225.63 37.10,224.10 37.25,229.27 37.40,223.29 37.55,230.85 37.70,221.80 37.85,222.54 38.00,223.77 38.15,231.14 38.30,226.99 38.46,223.04 38.61,232.83 38.76,232.32 38.91,234.56 39.06,230.86 39.21,228.08 39.36,221.68 39.51,235.69 39.66,235.97 39.81,221.94 39.96,223.70 40.11,236.57 40.26,233.32 40.41,237.39 40.56,230.18 40.72,223.21 40.87,227.57 41.02,237.67 41.17,230.40 41.32,235.55 41.47,228.29 41.62,233.63 41.77,226.31 41.92,223.85 42.07,226.80 42.22,227.21 42.37,227.70 42.52,225.45 42.67,232.69 42.82,230.69 42.97,229.57 43.13,224.06 43.28,229.00 43.43,226.76 43.58,232.01 43.73,238.21 43.88,232.38 44.03,229.69 44.18,232.60 44.33,234.58 44.48,233.49 44.63,228.98 44.78,228.91 44.93,232.06 45.08,235.79 45.23,234.28 45.38,225.98 45.54,231.35 45.69,228.64 45.84,231.25 45.99,236.93 46.14,227.71 46.29,231.96 46.44,235.41 46.59,230.50 46.74,234.09 46.89,232.52 47.04,236.00 47.19,233.12 47.34,230.83 47.49,234.12 47.64,236.13 47.80,235.06 47.95,230.68 48.10,237.66 48.25,238.00 48.40,231.50 48.55,233.37 48.70,234.21 48.85,235.91 49.00,233.16 49.15,232.14 49.30,234.05 49.45,239.72 49.60,233.67 49.75,240.14 49.90,230.04 50.05,236.45 50.21,232.19 50.36,233.85 50.51,237.68 50.66,231.73 50.81,235.39 50.96,231.84 51.11,233.77 51.26,235.69 51.41,232.61 51.56,232.87 51.71,237.49 51.86,240.30 52.01,233.64 52.16,233.90 52.31,234.06 52.46,239.47 52.62,240.87 52.77,242.54 52.92,236.84 53.07,240.55 53.22,238.61 53.37,242.78 53.52,237.23 53.67,242.39 53.82,242.65 53.97,242.61 54.12,237.64 54.27,234.43 54.42,242.48 54.57,242.33 54.72,238.08 54.87,242.35 55.03,239.78 55.18,241.55 55.33,238.48 55.48,242.15 55.63,239.31 55.78,240.48 55.93,237.79 56.08,238.78 56.23,235.62 56.38,237.41 56.53,235.05 56.68,241.72 56.83,239.84 56.98,236.82 57.13,238.11 57.29,241.50 57.44,237.65 57.59,240.16 57.74,235.49 57.89,239.32 58.04,236.89 58.19,241.60 58.34,237.90 58.49,243.38 58.64,242.83 58.79,241.87 58.94,243.95 59.09,240.31 59.24,242.15 59.39,240.52 59.54,244.72 59.70,244.25 59.85,242.18 60.00,243.84 60.15,242.00 60.30,242.40 60.45,244.46 60.60,243.14 60.75,242.87 60.90,243.43 61.05,244.47 61.20,244.95 61.35,244.74 61.50,243.28 61.65,242.67 61.80,246.06 61.95,245.91 62.11,245.00 62.26,243.14 62.41,246.38 62.56,243.27 62.71,243.30 62.86,246.47 63.01,244.46 63.16,244.82 63.31,246.02 63.46,246.54 63.61,245.15 63.76,245.89 63.91,243.92 64.06,244.76 64.21,246.62 64.37,243.70 64.52,243.74 64.67,243.78 64.82,245.20 64.97,244.03 65.12,244.94 65.27,245.78 65.42,246.76 65.57,245.22 65.72,246.80 65.87,244.68 66.02,246.83 66.17,245.11 66.32,245.80 66.47,246.58 66.62,246.52 66.78,245.97 66.93,243.87 67.08,244.97 67.23,245.58 67.38,244.34 67.53,246.12 67.68,246.23 67.83,245.88 67.98,243.81 68.13,245.01 68.28,244.83 68.43,244.75 68.58,245.43 68.73,244.08 68.88,244.55 69.03,245.75 69.19,245.66 69.34,244.86 69.49,245.50 69.64,244.65 69.79,243.81 69.94,244.04 70.09,243.94 70.24,244.26 70.39,244.61 70.54,244.71 70.69,242.98 70.84,244.51 70.99,243.80 71.14,243.52 71.29,243.01 71.45,243.55 71.60,244.60 71.75,242.49 71.90,244.28 72.05,243.01 72.20,244.52 72.35,243.31 72.50,245.02 72.65,243.24 72.80,244.05 72.95,245.63 73.10,243.74 73.25,245.93 73.40,245.09 73.55,244.23 73.70,245.15 73.86,244.56 74.01,245.56 74.16,246.22 74.31,244.96 74.46,246.19 74.61,246.42 74.76,245.33 74.91,246.17 75.06,247.04 75.21,246.50 75.36,245.29 75.51,245.34 75.66,247.10 75.81,245.64 75.96,245.49 76.11,246.65 76.27,245.88 76.42,247.14 76.57,246.84 76.72,246.11 76.87,246.88 77.02,246.77 77.17,246.83 77.32,247.58 77.47,247.62 77.62,247.16 77.77,247.00 77.92,247.63 78.07,246.19 78.22,247.79 78.37,247.63 78.53,247.44 78.68,246.82 78.83,247.87 78.98,247.02 79.13,247.65 79.28,247.60 79.43,246.81 79.58,246.66 79.73,246.60 79.88,247.88 80.03,246.54 80.18,246.66 80.33,247.14 80.48,247.03 80.63,247.28 80.78,247.19 80.94,246.57 81.09,246.46 81.24,247.20 81.39,246.87 81.54,246.56 81.69,247.85 81.84,246.49 81.99,246.80 82.14,246.51 82.29,247.23 82.44,247.58 82.59,247.23 82.74,246.87 82.89,247.54 83.04,246.56 83.19,247.03 83.35,247.74 83.50,246.96 83.65,247.29 83.80,247.27 83.95,247.51 84.10,247.76 84.25,248.01 84.40,247.16 84.55,247.08 84.70,246.92 84.85,247.63 85.00,247.14 85.15,246.89 85.30,247.91 85.45,247.24 85.60,246.66 85.76,247.66 85.91,247.60 86.06,247.43 86.21,247.57 86.36,246.80 86.51,247.29 86.66,247.20 86.81,247.60 86.96,246.89 87.11,247.27 87.26,247.53 87.41,247.39 87.56,246.78 87.71,247.38 87.86,247.34 88.02,246.86 88.17,247.65 88.32,247.13 88.47,248.02 88.62,247.12 88.77,248.05 88.92,247.47 89.07,247.75 89.22,247.90 89.37,247.09 89.52,247.22 89.67,247.17 89.82,246.94 89.97,247.17 90.12,247.17 90.27,247.45 90.43,246.99 90.58,247.09 90.73,247.81 90.88,247.86 91.03,247.86 91.18,247.86 91.33,247.12 91.48,247.56 91.63,247.33 91.78,248.00 91.93,247.97 92.08,247.19 92.23,248.02 92.38,247.88 92.53,248.02 92.68,247.80 92.84,247.17 92.99,247.85 93.14,247.22 93.29,247.20 93.44,247.80 93.59,247.78 93.74,247.42 93.89,247.33 94.04,248.00 94.19,247.81 94.34,247.25 94.49,247.84 94.64,247.48 94.79,247.31 94.94,247.73 95.10,247.71 95.25,247.79 95.40,247.84 95.55,247.81 95.70,247.96 95.85,247.83 96.00,247.72 96.15,247.44 96.30,247.70 96.45,247.75 96.60,247.25 96.75,247.57 96.90,247.67 97.05,247.78 97.20,247.66 97.35,247.86 97.51,247.72 97.66,247.79 97.81,247.87 97.96,247.65 98.11,247.90 98.26,247.26 98.41,247.85 98.56,247.26 98.71,247.48 98.86,247.39 99.01,247.26 99.16,247.88 99.31,247.26 99.46,247.39" fill="none" stroke="#4c72b0" stroke-width="1.4" stroke-linejoin="round" stroke-linecap="round" marker-start="url(#m)" marker-mid="url(#m)" marker-end="url(#m)"/>
<rect x="30.66" y="152.40" width="72.08" height="100.1" fill="none" stroke="#fff" stroke-width="0.78"/>
<text x="33.94" y="264.20" font-size="6.875" text-anchor="middle">0</text>
<text x="64.06" y="264.20" font-size="6.875" text-anchor="middle">200</text>
<text x="94.19" y="264.20" font-size="6.875" text-anchor="middle">400</text>
<text x="24.86" y="232.80" font-size="6.875" text-anchor="end">0.04</text>
<text x="24.86" y="209.47" font-size="6.875" text-anchor="end">0.06</text>
<text x="24.86" y="186.13" font-size="6.875" text-anchor="end">0.08</text>
<text x="24.86" y="162.80" font-size="6.875" text-anchor="end">0.10</text>
<text x="66.70" y="147.90" font-size="7.4" text-anchor="middle">val/box_loss</text>
</g>
<g>
<rect x="137.76" y="152.40" width="72.08" height="100.1" fill="#eaeaf2"/>
<path d="M141.04 152.40V252.50M171.16 152.40V252.50M201.29 152.40V252.50M137.76 244.00H209.84M137.76 219.35H209.84M137.76 194.70H209.84M137.76 170.05H209.84" stroke="#fff" stroke-width="0.65" fill="none"/>
<polyline points="141.04,156.74 141.19,161.67 141.34,168.32 141.49,174.98 141.64,178.43 141.79,185.33 141.94,188.78 142.09,190.76 142.24,192.23 142.39,195.44 142.54,198.64 142.69,201.60 142.84,204.56 142.99,207.03 143.15,209.49 143.30,211.95 143.45,214.75 143.60,217.54 143.75,220.34 143.90,222.80 144.05,225.27 144.20,226.45 144.35,227.63 144.50,228.82 144.65,230.00 144.80,231.18 144.95,233.67 145.10,235.24 145.25,233.80 145.40,233.73 145.56,235.08 145.71,237.15 145.86,237.23 146.01,238.53 146.16,234.34 146.31,236.38 146.46,233.89 146.61,234.86 146.76,233.49 146.91,239.23 147.06,237.79 147.21,237.76 147.36,240.51 147.51,236.78 147.66,237.35 147.82,236.96 147.97,238.81 148.12,235.00 148.27,244.93 148.42,236.84 148.57,238.81 148.72,241.83 148.87,241.16 149.02,237.42 149.17,235.67 149.32,240.14 149.47,235.69 149.62,237.17 149.77,234.14 149.92,234.76 150.07,236.16 150.23,240.72 150.38,245.05 150.53,234.13 150.68,244.34 150.83,236.79 150.98,240.98 151.13,234.33 151.28,241.70 151.43,247.55 151.58,248.59 151.73,237.66 151.88,240.68 152.03,243.65 152.18,242.49 152.33,235.34 152.48,238.57 152.64,236.54 152.79,241.55 152.94,239.49 153.09,235.30 153.24,242.14 153.39,233.73 153.54,240.93 153.69,233.70 153.84,243.01 153.99,241.49 154.14,239.41 154.29,242.06 154.44,241.36 154.59,240.44 154.74,234.24 154.90,242.43 155.05,234.44 155.20,234.67 155.35,237.70 155.50,239.25 155.65,232.88 155.80,247.54 155.95,240.19 156.10,239.71 156.25,231.18 156.40,241.33 156.55,236.05 156.70,238.55 156.85,235.65 157.00,242.96 157.15,238.44 157.31,232.78 157.46,243.38 157.61,239.81 157.76,246.72 157.91,237.47 158.06,243.87 158.21,236.59 158.36,245.77 158.51,240.50 158.66,245.82 158.81,240.20 158.96,239.10 159.11,233.40 159.26,238.87 159.41,239.39 159.56,233.45 159.72,236.21 159.87,246.90 160.02,239.41 160.17,241.03 160.32,237.36 160.47,238.06 160.62,247.18 160.77,242.27 160.92,232.98 161.07,235.70 161.22,243.52 161.37,241.49 161.52,240.03 161.67,245.50 161.82,246.77 161.97,236.99 162.13,245.61 162.28,243.47 162.43,243.60 162.58,241.76 162.73,241.47 162.88,232.53 163.03,239.21 163.18,235.05 163.33,237.65 163.48,233.80 163.63,235.73 163.78,239.17 163.93,232.61 164.08,232.46 164.23,234.68 164.39,238.58 164.54,232.38 164.69,234.09 164.84,236.06 164.99,235.52 165.14,231.53 165.29,236.19 165.44,235.13 165.59,236.27 165.74,232.93 165.89,235.49 166.04,231.81 166.19,233.76 166.34,230.64 166.49,234.30 166.64,233.11 166.80,231.10 166.95,230.95 167.10,236.36 167.25,233.04 167.40,232.77 167.55,231.06 167.70,232.51 167.85,229.56 168.00,229.42 168.15,232.87 168.30,234.32 168.45,231.93 168.60,231.02 168.75,230.08 168.90,234.77 169.05,233.21 169.21,234.78 169.36,233.04 169.51,228.33 169.66,227.98 169.81,228.89 169.96,230.47 170.11,230.91 170.26,227.48 170.41,227.36 170.56,229.18 170.71,230.59 170.86,230.64 171.01,229.34 171.16,226.74 171.31,230.05 171.47,229.96 171.62,228.26 171.77,230.17 171.92,227.38 172.07,231.47 172.22,228.74 172.37,230.25 172.52,226.77 172.67,228.16 172.82,230.58 172.97,229.60 173.12,229.06 173.27,225.47 173.42,227.46 173.57,227.61 173.72,230.49 173.88,230.57 174.03,230.40 174.18,228.43 174.33,225.76 174.48,226.12 174.63,223.76 174.78,228.32 174.93,226.21 175.08,226.16 175.23,227.78 175.38,229.18 175.53,228.15 175.68,224.28 175.83,228.97 175.98,224.55 176.13,224.30 176.29,226.60 176.44,225.32 176.59,225.75 176.74,225.42 176.89,222.31 177.04,223.06 177.19,223.59 177.34,225.16 177.49,226.14 177.64,225.18 177.79,228.23 177.94,226.93 178.09,225.06 178.24,228.15 178.39,225.18 178.55,225.52 178.70,225.35 178.85,225.17 179.00,227.02 179.15,221.83 179.30,227.96 179.45,227.19 179.60,227.90 179.75,224.87 179.90,223.40 180.05,221.60 180.20,226.67 180.35,223.79 180.50,226.48 180.65,224.30 180.80,222.25 180.96,226.85 181.11,223.80 181.26,225.50 181.41,223.13 181.56,222.38 181.71,226.60 181.86,224.69 182.01,226.39 182.16,226.29 182.31,225.74 182.46,224.79 182.61,225.51 182.76,225.43 182.91,220.20 183.06,222.41 183.21,219.98 183.37,219.40 183.52,222.68 183.67,219.20 183.82,221.52 183.97,222.15 184.12,224.13 184.27,223.23 184.42,221.36 184.57,221.67 184.72,221.09 184.87,220.70 185.02,223.74 185.17,222.38 185.32,221.50 185.47,222.00 185.63,223.47 185.78,220.83 185.93,221.89 186.08,217.80 186.23,221.54 186.38,219.08 186.53,222.56 186.68,219.73 186.83,217.13 186.98,219.28 187.13,217.86 187.28,218.08 187.43,218.81 187.58,216.98 187.73,216.90 187.88,216.75 188.04,219.05 188.19,218.88 188.34,220.62 188.49,217.46 188.64,219.40 188.79,218.15 188.94,215.01 189.09,216.54 189.24,215.92 189.39,218.04 189.54,215.44 189.69,216.34 189.84,215.86 189.99,216.64 190.14,213.40 190.29,218.25 190.45,215.55 190.60,215.36 190.75,214.28 190.90,214.87 191.05,216.85 191.20,215.79 191.35,213.20 191.50,214.10 191.65,216.89 191.80,215.80 191.95,215.84 192.10,212.96 192.25,216.01 192.40,212.84 192.55,212.78 192.70,215.17 192.86,212.66 193.01,215.42 193.16,215.50 193.31,213.46 193.46,215.40 193.61,214.09 193.76,216.11 193.91,215.38 194.06,214.45 194.21,216.61 194.36,212.97 194.51,213.26 194.66,214.58 194.81,213.12 194.96,213.23 195.12,215.83 195.27,213.69 195.42,214.74 195.57,215.86 195.72,214.22 195.87,216.31 196.02,216.25 196.17,213.77 196.32,213.64 196.47,211.70 196.62,214.56 196.77,213.11 196.92,215.68 197.07,215.83 197.22,214.69 197.37,213.77 197.53,214.11 197.68,212.21 197.83,212.22 197.98,215.47 198.13,214.50 198.28,211.44 198.43,211.91 198.58,215.23 198.73,214.55 198.88,211.35 199.03,214.96 199.18,211.75 199.33,214.94 199.48,213.41 199.63,214.31 199.78,212.72 199.94,211.44 200.09,212.59 200.24,211.76 200.39,211.45 200.54,211.17 200.69,212.25 200.84,214.43 200.99,214.12 201.14,211.28 201.29,211.84 201.44,211.46 201.59,212.72 201.74,212.97 201.89,214.06 202.04,213.65 202.20,212.40 202.35,212.82 202.50,213.71 202.65,210.94 202.80,212.20 202.95,211.78 203.10,212.03 203.25,212.42 203.40,213.13 203.55,211.26 203.70,212.77 203.85,213.14 204.00,211.08 204.15,212.09 204.30,211.50 204.45,213.50 204.61,211.10 204.76,212.87 204.91,213.05 205.06,212.40 205.21,212.94 205.36,212.80 205.51,211.89 205.66,211.31 205.81,212.60 205.96,212.37 206.11,212.15 206.26,211.99 206.41,213.13 206.56,211.49" fill="none" stroke="#4c72b0" stroke-width="1.4" stroke-linejoin="round" stroke-linecap="round" marker-start="url(#m)" marker-mid="url(#m)" marker-end="url(#m)"/>
<rect x="137.76" y="152.40" width="72.08" height="100.1" fill="none" stroke="#fff" stroke-width="0.78"/>
<text x="141.04" y="264.20" font-size="6.875" text-anchor="middle">0</text>
<text x="171.16" y="264.20" font-size="6.875" text-anchor="middle">200</text>
<text x="201.29" y="264.20" font-size="6.875" text-anchor="middle">400</text>
<text x="131.96" y="246.50" font-size="6.875" text-anchor="end">0.010</text>
<text x="131.96" y="221.85" font-size="6.875" text-anchor="end">0.015</text>
<text x="131.96" y="197.20" font-size="6.875" text-anchor="end">0.020</text>
<text x="131.96" y="172.55" font-size="6.875" text-anchor="end">0.025</text>
<text x="173.80" y="147.90" font-size="7.4" text-anchor="middle">val/obj_loss</text>
</g>
<g>
<rect x="244.86" y="152.40" width="72.08" height="100.1" fill="#eaeaf2"/>
<path d="M248.14 152.40V252.50M278.26 152.40V252.50M308.39 152.40V252.50M244.86 238.50H316.94M244.86 220.32H316.94M244.86 202.15H316.94M244.86 183.98H316.94M244.86 165.80H316.94" stroke="#fff" stroke-width="0.65" fill="none"/>
<polyline points="248.14,202.15 248.29,202.15 248.44,202.15 248.59,202.15 248.74,202.15 248.89,202.15 249.04,202.15 249.19,202.15 249.34,202.15 249.49,202.15 249.64,202.15 249.79,202.15 249.94,202.15 250.09,202.15 250.25,202.15 250.40,202.15 250.55,202.15 250.70,202.15 250.85,202.15 251.00,202.15 251.15,202.15 251.30,202.15 251.45,202.15 251.60,202.15 251.75,202.15 251.90,202.15 252.05,202.15 252.20,202.15 252.35,202.15 252.50,202.15 252.66,202.15 252.81,202.15 252.96,202.15 253.11,202.15 253.26,202.15 253.41,202.15 253.56,202.15 253.71,202.15 253.86,202.15 254.01,202.15 254.16,202.15 254.31,202.15 254.46,202.15 254.61,202.15 254.76,202.15 254.92,202.15 255.07,202.15 255.22,202.15 255.37,202.15 255.52,202.15 255.67,202.15 255.82,202.15 255.97,202.15 256.12,202.15 256.27,202.15 256.42,202.15 256.57,202.15 256.72,202.15 256.87,202.15 257.02,202.15 257.17,202.15 257.33,202.15 257.48,202.15 257.63,202.15 257.78,202.15 257.93,202.15 258.08,202.15 258.23,202.15 258.38,202.15 258.53,202.15 258.68,202.15 258.83,202.15 258.98,202.15 259.13,202.15 259.28,202.15 259.43,202.15 259.58,202.15 259.74,202.15 259.89,202.15 260.04,202.15 260.19,202.15 260.34,202.15 260.49,202.15 260.64,202.15 260.79,202.15 260.94,202.15 261.09,202.15 261.24,202.15 261.39,202.15 261.54,202.15 261.69,202.15 261.84,202.15 262.00,202.15 262.15,202.15 262.30,202.15 262.45,202.15 262.60,202.15 262.75,202.15 262.90,202.15 263.05,202.15 263.20,202.15 263.35,202.15 263.50,202.15 263.65,202.15 263.80,202.15 263.95,202.15 264.10,202.15 264.25,202.15 264.41,202.15 264.56,202.15 264.71,202.15 264.86,202.15 265.01,202.15 265.16,202.15 265.31,202.15 265.46,202.15 265.61,202.15 265.76,202.15 265.91,202.15 266.06,202.15 266.21,202.15 266.36,202.15 266.51,202.15 266.66,202.15 266.82,202.15 266.97,202.15 267.12,202.15 267.27,202.15 267.42,202.15 267.57,202.15 267.72,202.15 267.87,202.15 268.02,202.15 268.17,202.15 268.32,202.15 268.47,202.15 268.62,202.15 268.77,202.15 268.92,202.15 269.07,202.15 269.23,202.15 269.38,202.15 269.53,202.15 269.68,202.15 269.83,202.15 269.98,202.15 270.13,202.15 270.28,202.15 270.43,202.15 270.58,202.15 270.73,202.15 270.88,202.15 271.03,202.15 271.18,202.15 271.33,202.15 271.49,202.15 271.64,202.15 271.79,202.15 271.94,202.15 272.09,202.15 272.24,202.15 272.39,202.15 272.54,202.15 272.69,202.15 272.84,202.15 272.99,202.15 273.14,202.15 273.29,202.15 273.44,202.15 273.59,202.15 273.74,202.15 273.90,202.15 274.05,202.15 274.20,202.15 274.35,202.15 274.50,202.15 274.65,202.15 274.80,202.15 274.95,202.15 275.10,202.15 275.25,202.15 275.40,202.15 275.55,202.15 275.70,202.15 275.85,202.15 276.00,202.15 276.15,202.15 276.31,202.15 276.46,202.15 276.61,202.15 276.76,202.15 276.91,202.15 277.06,202.15 277.21,202.15 277.36,202.15 277.51,202.15 277.66,202.15 277.81,202.15 277.96,202.15 278.11,202.15 278.26,202.15 278.41,202.15 278.57,202.15 278.72,202.15 278.87,202.15 279.02,202.15 279.17,202.15 279.32,202.15 279.47,202.15 279.62,202.15 279.77,202.15 279.92,202.15 280.07,202.15 280.22,202.15 280.37,202.15 280.52,202.15 280.67,202.15 280.82,202.15 280.98,202.15 281.13,202.15 281.28,202.15 281.43,202.15 281.58,202.15 281.73,202.15 281.88,202.15 282.03,202.15 282.18,202.15 282.33,202.15 282.48,202.15 282.63,202.15 282.78,202.15 282.93,202.15 283.08,202.15 283.23,202.15 283.39,202.15 283.54,202.15 283.69,202.15 283.84,202.15 283.99,202.15 284.14,202.15 284.29,202.15 284.44,202.15 284.59,202.15 284.74,202.15 284.89,202.15 285.04,202.15 285.19,202.15 285.34,202.15 285.49,202.15 285.65,202.15 285.80,202.15 285.95,202.15 286.10,202.15 286.25,202.15 286.40,202.15 286.55,202.15 286.70,202.15 286.85,202.15 287.00,202.15 287.15,202.15 287.30,202.15 287.45,202.15 287.60,202.15 287.75,202.15 287.90,202.15 288.06,202.15 288.21,202.15 288.36,202.15 288.51,202.15 288.66,202.15 288.81,202.15 288.96,202.15 289.11,202.15 289.26,202.15 289.41,202.15 289.56,202.15 289.71,202.15 289.86,202.15 290.01,202.15 290.16,202.15 290.31,202.15 290.47,202.15 290.62,202.15 290.77,202.15 290.92,202.15 291.07,202.15 291.22,202.15 291.37,202.15 291.52,202.15 291.67,202.15 291.82,202.15 291.97,202.15 292.12,202.15 292.27,202.15 292.42,202.15 292.57,202.15 292.73,202.15 292.88,202.15 293.03,202.15 293.18,202.15 293.33,202.15 293.48,202.15 293.63,202.15 293.78,202.15 293.93,202.15 294.08,202.15 294.23,202.15 294.38,202.15 294.53,202.15 294.68,202.15 294.83,202.15 294.98,202.15 295.14,202.15 295.29,202.15 295.44,202.15 295.59,202.15 295.74,202.15 295.89,202.15 296.04,202.15 296.19,202.15 296.34,202.15 296.49,202.15 296.64,202.15 296.79,202.15 296.94,202.15 297.09,202.15 297.24,202.15 297.39,202.15 297.55,202.15 297.70,202.15 297.85,202.15 298.00,202.15 298.15,202.15 298.30,202.15 298.45,202.15 298.60,202.15 298.75,202.15 298.90,202.15 299.05,202.15 299.20,202.15 299.35,202.15 299.50,202.15 299.65,202.15 299.80,202.15 299.96,202.15 300.11,202.15 300.26,202.15 300.41,202.15 300.56,202.15 300.71,202.15 300.86,202.15 301.01,202.15 301.16,202.15 301.31,202.15 301.46,202.15 301.61,202.15 301.76,202.15 301.91,202.15 302.06,202.15 302.22,202.15 302.37,202.15 302.52,202.15 302.67,202.15 302.82,202.15 302.97,202.15 303.12,202.15 303.27,202.15 303.42,202.15 303.57,202.15 303.72,202.15 303.87,202.15 304.02,202.15 304.17,202.15 304.32,202.15 304.47,202.15 304.63,202.15 304.78,202.15 304.93,202.15 305.08,202.15 305.23,202.15 305.38,202.15 305.53,202.15 305.68,202.15 305.83,202.15 305.98,202.15 306.13,202.15 306.28,202.15 306.43,202.15 306.58,202.15 306.73,202.15 306.88,202.15 307.04,202.15 307.19,202.15 307.34,202.15 307.49,202.15 307.64,202.15 307.79,202.15 307.94,202.15 308.09,202.15 308.24,202.15 308.39,202.15 308.54,202.15 308.69,202.15 308.84,202.15 308.99,202.15 309.14,202.15 309.30,202.15 309.45,202.15 309.60,202.15 309.75,202.15 309.90,202.15 310.05,202.15 310.20,202.15 310.35,202.15 310.50,202.15 310.65,202.15 310.80,202.15 310.95,202.15 311.10,202.15 311.25,202.15 311.40,202.15 311.55,202.15 311.71,202.15 311.86,202.15 312.01,202.15 312.16,202.15 312.31,202.15 312.46,202.15 312.61,202.15 312.76,202.15 312.91,202.15 313.06,202.15 313.21,202.15 313.36,202.15 313.51,202.15 313.66,202.15" fill="none" stroke="#4c72b0" stroke-width="1.4" stroke-linejoin="round" stroke-linecap="round" marker-start="url(#m)" marker-mid="url(#m)" marker-end="url(#m)"/>
<rect x="244.86" y="152.40" width="72.08" height="100.1" fill="none" stroke="#fff" stroke-width="0.78"/>
<text x="248.14" y="264.20" font-size="6.875" text-anchor="middle">0</text>
<text x="278.26" y="264.20" font-size="6.875" text-anchor="middle">200</text>
<text x="308.39" y="264.20" font-size="6.875" text-anchor="middle">400</text>
<text x="239.06" y="241.00" font-size="6.875" text-anchor="end">−0.04</text>
<text x="239.06" y="222.82" font-size="6.875" text-anchor="end">−0.02</text>
<text x="239.06" y="204.65" font-size="6.875" text-anchor="end">0.00</text>
<text x="239.06" y="186.48" font-size="6.875" text-anchor="end">0.02</text>
<text x="239.06" y="168.30" font-size="6.875" text-anchor="end">0.04</text>
<text x="280.90" y="147.90" font-size="7.4" text-anchor="middle">val/cls_loss</text>
</g>
<g>
<rect x="351.96" y="152.40" width="72.08" height="100.1" fill="#eaeaf2"/>
<path d="M355.24 152.40V252.50M385.36 152.40V252.50M415.49 152.40V252.50M351.96 248.30H424.04M351.96 227.55H424.04M351.96 206.80H424.04M351.96 186.05H424.04M351.96 165.30H424.04" stroke="#fff" stroke-width="0.65" fill="none"/>
<polyline points="355.24,247.57 355.39,247.06 355.54,246.23 355.69,242.07 355.84,229.21 355.99,222.36 356.14,217.18 356.29,213.03 356.44,208.88 356.59,206.80 356.74,204.73 356.89,202.65 357.04,200.58 357.19,198.50 357.35,196.43 357.50,194.87 357.65,193.31 357.80,191.24 357.95,189.16 358.10,189.16 358.25,181.88 358.40,176.98 358.55,179.93 358.70,171.96 358.85,175.48 359.00,181.12 359.15,181.12 359.30,168.07 359.45,176.96 359.60,176.29 359.76,164.64 359.91,175.96 360.06,169.71 360.21,177.28 360.36,174.10 360.51,168.92 360.66,176.84 360.81,163.30 360.96,177.53 361.11,175.67 361.26,179.52 361.41,168.86 361.56,177.56 361.71,173.57 361.86,177.87 362.02,166.94 362.17,174.24 362.32,172.16 362.47,176.46 362.62,179.91 362.77,173.23 362.92,175.58 363.07,182.94 363.22,183.85 363.37,165.07 363.52,173.91 363.67,170.69 363.82,169.27 363.97,179.58 364.12,164.35 364.27,169.36 364.43,175.43 364.58,156.79 364.73,173.90 364.88,177.05 365.03,163.65 365.18,164.26 365.33,167.05 365.48,172.02 365.63,161.39 365.78,174.27 365.93,167.95 366.08,170.04 366.23,168.80 366.38,164.07 366.53,176.76 366.68,168.49 366.84,168.72 366.99,173.29 367.14,175.82 367.29,178.90 367.44,170.87 367.59,181.90 367.74,172.80 367.89,175.51 368.04,175.47 368.19,168.58 368.34,167.60 368.49,170.69 368.64,171.82 368.79,180.00 368.94,166.36 369.10,173.11 369.25,169.10 369.40,170.41 369.55,169.64 369.70,164.10 369.85,170.16 370.00,160.47 370.15,164.02 370.30,165.99 370.45,174.02 370.60,166.93 370.75,166.90 370.90,165.66 371.05,163.11 371.20,169.70 371.35,171.59 371.51,165.84 371.66,160.94 371.81,164.57 371.96,169.70 372.11,166.29 372.26,163.08 372.41,168.94 372.56,166.98 372.71,163.49 372.86,158.80 373.01,170.09 373.16,164.61 373.31,163.84 373.46,166.50 373.61,161.58 373.76,161.69 373.92,170.27 374.07,157.71 374.22,162.19 374.37,157.67 374.52,161.54 374.67,170.88 374.82,157.42 374.97,165.11 375.12,163.32 375.27,163.71 375.42,170.09 375.57,167.79 375.72,164.84 375.87,159.16 376.02,162.65 376.17,169.47 376.33,166.73 376.48,164.79 376.63,164.04 376.78,159.12 376.93,159.47 377.08,159.43 377.23,166.79 377.38,166.61 377.53,166.74 377.68,162.58 377.83,161.16 377.98,167.51 378.13,162.92 378.28,161.99 378.43,163.66 378.59,161.75 378.74,166.32 378.89,166.44 379.04,159.57 379.19,165.84 379.34,161.36 379.49,165.11 379.64,166.59 379.79,163.11 379.94,166.11 380.09,165.87 380.24,160.99 380.39,165.39 380.54,163.96 380.69,160.72 380.84,158.34 381.00,163.70 381.15,161.53 381.30,162.98 381.45,159.65 381.60,162.22 381.75,159.41 381.90,163.44 382.05,159.39 382.20,158.24 382.35,159.33 382.50,160.58 382.65,161.34 382.80,162.46 382.95,158.79 383.10,158.88 383.25,159.68 383.41,162.09 383.56,161.79 383.71,160.33 383.86,158.46 384.01,158.49 384.16,158.52 384.31,161.61 384.46,162.20 384.61,160.29 384.76,159.55 384.91,158.66 385.06,161.80 385.21,159.17 385.36,161.31 385.51,159.99 385.67,160.83 385.82,160.72 385.97,161.14 386.12,160.84 386.27,161.94 386.42,161.75 386.57,160.27 386.72,161.64 386.87,161.34 387.02,161.70 387.17,161.16 387.32,159.67 387.47,162.15 387.62,159.54 387.77,162.15 387.92,161.84 388.08,160.14 388.23,162.14 388.38,161.19 388.53,160.51 388.68,162.14 388.83,159.21 388.98,159.22 389.13,160.08 389.28,159.82 389.43,159.26 389.58,159.28 389.73,160.10 389.88,160.67 390.03,159.32 390.18,160.20 390.33,160.28 390.49,160.95 390.64,162.12 390.79,160.40 390.94,160.57 391.09,160.50 391.24,161.02 391.39,160.13 391.54,160.65 391.69,160.49 391.84,160.84 391.99,161.17 392.14,160.60 392.29,160.96 392.44,159.66 392.59,160.15 392.75,160.60 392.90,159.60 393.05,160.06 393.20,161.93 393.35,161.32 393.50,160.56 393.65,160.84 393.80,159.70 393.95,160.04 394.10,160.13 394.25,159.70 394.40,160.21 394.55,162.02 394.70,162.01 394.85,161.99 395.00,160.70 395.16,160.69 395.31,159.70 395.46,159.74 395.61,159.79 395.76,161.10 395.91,160.88 396.06,160.27 396.21,161.63 396.36,161.20 396.51,159.70 396.66,159.70 396.81,161.78 396.96,160.71 397.11,161.13 397.26,161.73 397.41,161.25 397.57,160.09 397.72,159.96 397.87,160.06 398.02,159.71 398.17,160.89 398.32,160.60 398.47,159.71 398.62,159.73 398.77,160.93 398.92,161.27 399.07,160.58 399.22,160.41 399.37,160.12 399.52,160.52 399.67,160.31 399.83,160.67 399.98,160.06 400.13,160.53 400.28,160.91 400.43,159.95 400.58,160.75 400.73,160.78 400.88,160.03 401.03,160.32 401.18,159.72 401.33,159.72 401.48,160.51 401.63,160.36 401.78,160.68 401.93,161.19 402.08,159.69 402.24,160.17 402.39,160.87 402.54,159.71 402.69,160.45 402.84,160.28 402.99,161.05 403.14,161.22 403.29,160.19 403.44,160.71 403.59,161.20 403.74,160.28 403.89,160.32 404.04,161.18 404.19,160.51 404.34,160.08 404.49,160.26 404.65,160.71 404.80,159.57 404.95,160.42 405.10,159.64 405.25,160.24 405.40,160.20 405.55,159.54 405.70,160.52 405.85,160.13 406.00,159.84 406.15,159.52 406.30,160.45 406.45,161.08 406.60,161.08 406.75,161.07 406.90,161.07 407.06,160.45 407.21,160.55 407.36,160.81 407.51,160.53 407.66,160.77 407.81,160.48 407.96,160.45 408.11,159.44 408.26,160.53 408.41,160.25 408.56,160.12 408.71,160.38 408.86,159.63 409.01,160.88 409.16,159.42 409.32,161.00 409.47,160.46 409.62,159.92 409.77,160.02 409.92,159.72 410.07,161.00 410.22,159.80 410.37,159.89 410.52,159.42 410.67,160.35 410.82,160.04 410.97,160.88 411.12,159.47 411.27,160.53 411.42,159.92 411.57,159.42 411.73,160.54 411.88,159.78 412.03,160.00 412.18,160.21 412.33,161.00 412.48,160.24 412.63,159.74 412.78,159.42 412.93,159.42 413.08,160.03 413.23,159.69 413.38,159.98 413.53,160.43 413.68,160.28 413.83,159.48 413.98,159.42 414.14,160.70 414.29,159.42 414.44,159.90 414.59,159.42 414.74,159.57 414.89,160.29 415.04,160.46 415.19,159.77 415.34,159.78 415.49,159.85 415.64,160.59 415.79,159.42 415.94,161.00 416.09,159.44 416.24,160.16 416.40,160.19 416.55,159.50 416.70,160.21 416.85,160.24 417.00,160.51 417.15,159.83 417.30,159.98 417.45,159.63 417.60,159.66 417.75,160.24 417.90,160.56 418.05,160.35 418.20,160.54 418.35,160.31 418.50,160.21 418.65,160.03 418.81,160.24 418.96,160.67 419.11,160.28 419.26,160.78 419.41,160.48 419.56,160.76 419.71,160.47 419.86,160.16 420.01,160.25 420.16,160.69 420.31,160.51 420.46,160.48 420.61,160.57 420.76,160.39" fill="none" stroke="#4c72b0" stroke-width="1.4" stroke-linejoin="round" stroke-linecap="round" marker-start="url(#m)" marker-mid="url(#m)" marker-end="url(#m)"/>
<rect x="351.96" y="152.40" width="72.08" height="100.1" fill="none" stroke="#fff" stroke-width="0.78"/>
<text x="355.24" y="264.20" font-size="6.875" text-anchor="middle">0</text>
<text x="385.36" y="264.20" font-size="6.875" text-anchor="middle">200</text>
<text x="415.49" y="264.20" font-size="6.875" text-anchor="middle">400</text>
<text x="346.16" y="250.80" font-size="6.875" text-anchor="end">0.0</text>
<text x="346.16" y="230.05" font-size="6.875" text-anchor="end">0.2</text>
<text x="346.16" y="209.30" font-size="6.875" text-anchor="end">0.4</text>
<text x="346.16" y="188.55" font-size="6.875" text-anchor="end">0.6</text>
<text x="346.16" y="167.80" font-size="6.875" text-anchor="end">0.8</text>
<text x="388.00" y="147.90" font-size="7.4" text-anchor="middle">metrics/mAP_0.5</text>
</g>
<g>
<rect x="459.06" y="152.40" width="72.08" height="100.1" fill="#eaeaf2"/>
<path d="M462.34 152.40V252.50M492.46 152.40V252.50M522.59 152.40V252.50M459.06 248.40H531.14M459.06 221.63H531.14M459.06 194.87H531.14M459.06 168.10H531.14" stroke="#fff" stroke-width="0.65" fill="none"/>
<polyline points="462.34,248.13 462.49,248.00 462.64,247.86 462.79,247.06 462.94,245.05 463.09,242.38 463.24,241.04 463.39,239.70 463.54,238.76 463.69,237.69 463.84,236.36 463.99,235.02 464.14,231.00 464.29,226.32 464.45,223.64 464.60,221.10 464.75,219.63 464.90,218.29 465.05,216.68 465.20,214.94 465.35,218.55 465.50,215.78 465.65,218.95 465.80,214.45 465.95,210.91 466.10,218.69 466.25,200.06 466.40,221.78 466.55,207.94 466.70,222.13 466.86,210.55 467.01,188.92 467.16,188.31 467.31,182.99 467.46,207.63 467.61,216.39 467.76,216.91 467.91,176.86 468.06,187.70 468.21,212.06 468.36,197.45 468.51,195.35 468.66,182.28 468.81,197.17 468.96,212.80 469.12,204.33 469.27,189.23 469.42,215.61 469.57,196.93 469.72,206.98 469.87,175.92 470.02,182.72 470.17,195.81 470.32,194.18 470.47,168.83 470.62,192.77 470.77,171.56 470.92,189.35 471.07,189.10 471.22,193.81 471.37,175.80 471.53,174.86 471.68,191.98 471.83,167.00 471.98,188.30 472.13,190.32 472.28,167.05 472.43,189.98 472.58,186.28 472.73,179.76 472.88,167.94 473.03,196.76 473.18,193.64 473.33,205.90 473.48,176.76 473.63,177.24 473.78,179.08 473.94,179.47 474.09,185.44 474.24,171.14 474.39,191.77 474.54,191.16 474.69,183.09 474.84,170.51 474.99,193.07 475.14,171.09 475.29,190.93 475.44,196.38 475.59,183.71 475.74,191.70 475.89,176.03 476.04,201.56 476.20,186.61 476.35,172.40 476.50,181.39 476.65,176.60 476.80,183.33 476.95,182.39 477.10,179.26 477.25,171.19 477.40,180.24 477.55,170.16 477.70,166.79 477.85,180.70 478.00,166.57 478.15,177.75 478.30,175.82 478.45,173.67 478.61,179.64 478.76,166.15 478.91,165.41 479.06,171.56 479.21,173.47 479.36,174.21 479.51,173.39 479.66,173.34 479.81,185.63 479.96,172.31 480.11,173.33 480.26,177.11 480.41,178.22 480.56,181.66 480.71,172.31 480.86,178.74 481.02,175.20 481.17,164.31 481.32,180.86 481.47,180.09 481.62,170.01 481.77,182.09 481.92,177.09 482.07,173.18 482.22,179.44 482.37,168.41 482.52,173.34 482.67,171.06 482.82,177.23 482.97,178.99 483.12,175.37 483.27,164.13 483.43,170.54 483.58,166.15 483.73,167.76 483.88,173.49 484.03,166.90 484.18,172.23 484.33,177.11 484.48,176.85 484.63,167.68 484.78,162.69 484.93,166.99 485.08,162.74 485.23,173.28 485.38,175.26 485.53,162.93 485.69,165.47 485.84,173.97 485.99,167.05 486.14,165.28 486.29,165.72 486.44,168.21 486.59,163.62 486.74,163.61 486.89,168.88 487.04,164.13 487.19,171.95 487.34,165.14 487.49,167.80 487.64,162.78 487.79,164.57 487.94,171.60 488.10,169.44 488.25,165.08 488.40,164.15 488.55,161.80 488.70,169.80 488.85,165.97 489.00,159.99 489.15,163.92 489.30,165.88 489.45,169.19 489.60,163.18 489.75,161.57 489.90,166.61 490.05,161.74 490.20,160.42 490.35,159.57 490.51,161.28 490.66,164.13 490.81,165.64 490.96,161.79 491.11,167.44 491.26,159.86 491.41,161.50 491.56,163.65 491.71,168.02 491.86,165.56 492.01,167.25 492.16,166.31 492.31,163.50 492.46,160.26 492.61,166.53 492.77,166.55 492.92,160.41 493.07,163.95 493.22,163.91 493.37,166.35 493.52,161.56 493.67,163.91 493.82,162.44 493.97,163.05 494.12,162.00 494.27,163.62 494.42,165.71 494.57,162.95 494.72,163.51 494.87,166.63 495.02,164.65 495.18,165.94 495.33,163.34 495.48,164.13 495.63,163.99 495.78,168.10 495.93,161.76 496.08,162.21 496.23,160.36 496.38,164.28 496.53,163.04 496.68,163.13 496.83,161.52 496.98,163.84 497.13,161.68 497.28,164.57 497.43,162.27 497.59,162.99 497.74,163.71 497.89,163.67 498.04,163.74 498.19,162.14 498.34,161.90 498.49,162.30 498.64,163.04 498.79,163.56 498.94,164.04 499.09,163.42 499.24,163.02 499.39,163.79 499.54,164.63 499.69,164.10 499.85,161.21 500.00,163.23 500.15,162.84 500.30,163.70 500.45,161.81 500.60,162.78 500.75,160.04 500.90,161.07 501.05,162.67 501.20,161.27 501.35,163.42 501.50,162.42 501.65,160.47 501.80,163.85 501.95,161.36 502.10,161.92 502.26,160.08 502.41,160.93 502.56,160.08 502.71,160.92 502.86,159.47 503.01,160.91 503.16,161.82 503.31,160.25 503.46,160.84 503.61,158.32 503.76,161.54 503.91,162.43 504.06,159.15 504.21,161.39 504.36,162.35 504.51,161.73 504.67,162.16 504.82,161.24 504.97,157.83 505.12,160.89 505.27,159.53 505.42,159.70 505.57,160.83 505.72,162.02 505.87,157.46 506.02,161.24 506.17,161.13 506.32,159.14 506.47,160.84 506.62,160.66 506.77,158.54 506.93,160.61 507.08,159.45 507.23,160.02 507.38,157.43 507.53,156.99 507.68,161.88 507.83,158.90 507.98,159.42 508.13,157.39 508.28,159.03 508.43,159.34 508.58,158.50 508.73,158.77 508.88,158.95 509.03,161.16 509.18,161.03 509.34,158.26 509.49,161.32 509.64,160.25 509.79,159.34 509.94,159.01 510.09,160.05 510.24,159.31 510.39,159.37 510.54,159.92 510.69,160.42 510.84,158.67 510.99,160.15 511.14,160.31 511.29,158.76 511.44,159.93 511.59,161.48 511.75,161.45 511.90,160.93 512.05,159.63 512.20,159.54 512.35,159.95 512.50,158.26 512.65,160.02 512.80,160.57 512.95,159.66 513.10,158.71 513.25,159.15 513.40,159.27 513.55,158.55 513.70,158.73 513.85,158.48 514.00,159.89 514.16,159.32 514.31,159.25 514.46,159.56 514.61,158.61 514.76,159.41 514.91,159.44 515.06,160.78 515.21,160.02 515.36,159.31 515.51,159.79 515.66,160.55 515.81,159.42 515.96,159.95 516.11,159.24 516.26,159.41 516.42,159.21 516.57,160.19 516.72,160.17 516.87,159.40 517.02,158.45 517.17,159.38 517.32,159.31 517.47,159.71 517.62,158.30 517.77,158.91 517.92,159.14 518.07,158.79 518.22,159.57 518.37,158.89 518.52,159.30 518.67,159.69 518.83,160.32 518.98,160.23 519.13,159.86 519.28,160.34 519.43,159.91 519.58,159.03 519.73,158.99 519.88,157.75 520.03,160.27 520.18,159.44 520.33,159.46 520.48,159.07 520.63,159.67 520.78,160.07 520.93,159.06 521.08,159.07 521.24,157.41 521.39,158.99 521.54,158.57 521.69,158.15 521.84,158.54 521.99,159.08 522.14,158.65 522.29,158.64 522.44,159.23 522.59,158.33 522.74,157.34 522.89,157.38 523.04,159.02 523.19,157.66 523.34,158.07 523.50,158.52 523.65,158.92 523.80,158.08 523.95,159.53 524.10,159.60 524.25,157.62 524.40,159.97 524.55,159.20 524.70,158.56 524.85,158.85 525.00,159.26 525.15,157.40 525.30,158.00 525.45,158.72 525.60,158.09 525.75,159.19 525.91,159.41 526.06,158.21 526.21,158.04 526.36,159.69 526.51,157.86 526.66,157.77 526.81,158.50 526.96,159.78 527.11,158.72 527.26,159.25 527.41,158.28 527.56,158.76 527.71,158.92 527.86,159.35" fill="none" stroke="#4c72b0" stroke-width="1.4" stroke-linejoin="round" stroke-linecap="round" marker-start="url(#m)" marker-mid="url(#m)" marker-end="url(#m)"/>
<rect x="459.06" y="152.40" width="72.08" height="100.1" fill="none" stroke="#fff" stroke-width="0.78"/>
<text x="462.34" y="264.20" font-size="6.875" text-anchor="middle">0</text>
<text x="492.46" y="264.20" font-size="6.875" text-anchor="middle">200</text>
<text x="522.59" y="264.20" font-size="6.875" text-anchor="middle">400</text>
<text x="453.26" y="250.90" font-size="6.875" text-anchor="end">0.0</text>
<text x="453.26" y="224.13" font-size="6.875" text-anchor="end">0.2</text>
<text x="453.26" y="197.37" font-size="6.875" text-anchor="end">0.4</text>
<text x="453.26" y="170.60" font-size="6.875" text-anchor="end">0.6</text>
<text x="495.10" y="147.90" font-size="7.4" text-anchor="middle">metrics/mAP_0.5:0.95</text>
</g>
</svg></body></html>
